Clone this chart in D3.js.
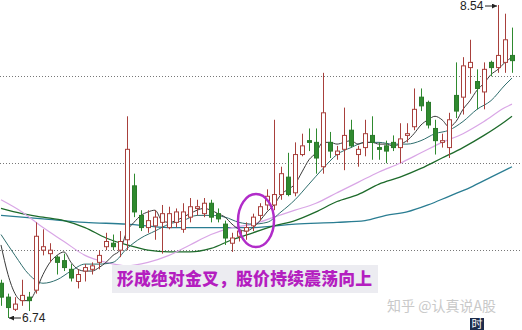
<!DOCTYPE html>
<html><head><meta charset="utf-8">
<script src="https://cdn.jsdelivr.net/npm/d3@7/dist/d3.min.js"></script>
<style>html,body{margin:0;padding:0;background:#fff;}svg{display:block;}</style>
</head><body>
<svg id="c" width="522" height="330"></svg>
<script>
// ---- data (prices) ----
const opens  = [6.94,6.86,6.79,6.84,6.86,6.90,7.13,7.11,7.09,7.07,7.02,6.95,7.01,7.02,7.06,7.15,7.17,7.13,7.19,7.50,7.33,7.26,7.27,7.29,7.26,7.29,7.25,7.32,7.37,7.34,7.40,7.34,7.28,7.17,7.21,7.24,7.27,7.33,7.39,7.39,7.45,7.55,7.46,7.68,7.76,7.75,7.61,7.75,7.68,7.71,7.82,7.68,7.72,7.79,7.72,7.73,7.75,7.72,7.79,7.84,8.01,7.98,7.83,7.75,7.72,8.02,8.01,8.18,8.10,8.04,8.21,8.18,8.21,8.25];
const highs  = [6.96,6.88,6.86,6.96,6.89,7.29,7.25,7.17,7.10,7.11,7.05,7.02,7.05,7.06,7.13,7.23,7.22,7.24,7.90,7.57,7.36,7.36,7.36,7.39,7.38,7.37,7.40,7.43,7.42,7.43,7.42,7.37,7.30,7.23,7.26,7.29,7.34,7.40,7.48,7.88,7.61,7.69,7.75,7.80,7.83,7.83,8.15,7.81,7.73,7.95,7.88,7.73,7.88,7.90,7.75,7.76,7.79,7.86,7.86,8.06,8.06,7.99,7.88,7.80,7.92,8.21,8.24,8.34,8.17,8.21,8.22,8.54,8.49,8.41];
const lows   = [6.81,6.74,6.78,6.81,6.78,6.88,7.10,7.06,6.99,7.01,6.95,6.91,6.95,6.99,7.02,7.13,7.13,7.09,7.13,7.32,7.24,7.23,7.19,7.11,7.25,7.26,7.23,7.29,7.33,7.32,7.29,7.29,7.16,7.12,7.18,7.19,7.24,7.30,7.36,7.36,7.42,7.44,7.44,7.67,7.70,7.57,7.57,7.66,7.65,7.59,7.72,7.61,7.67,7.65,7.65,7.63,7.70,7.63,7.75,7.82,7.93,7.83,7.68,7.72,7.66,7.89,7.91,8.03,7.94,7.94,8.13,8.15,8.15,8.15];
const closes = [6.86,6.80,6.82,6.87,6.84,7.21,7.15,7.13,7.06,7.03,6.97,6.99,7.03,7.04,7.10,7.18,7.15,7.18,7.71,7.35,7.26,7.30,7.32,7.34,7.34,7.35,7.35,7.38,7.38,7.40,7.32,7.31,7.20,7.20,7.24,7.26,7.32,7.38,7.44,7.45,7.57,7.45,7.68,7.73,7.75,7.66,7.92,7.70,7.70,7.79,7.73,7.71,7.80,7.75,7.71,7.70,7.72,7.77,7.80,7.94,7.96,7.85,7.76,7.76,7.88,7.93,8.19,8.21,8.06,8.17,8.18,8.25,8.34,8.22];

// moving averages: [candle index, value]
const ma5 = [[0,7.16],[1,6.99],[2,6.88],[3,6.84],[4,6.84],[5,6.90],[6,6.99],[7,7.06],[8,7.10],[9,7.12],[10,7.06],[11,7.02],[12,7.01],[13,7.01],[14,7.03],[15,7.06],[16,7.10],[17,7.13],[18,7.24],[19,7.29],[20,7.33],[21,7.35],[22,7.36],[23,7.30],[24,7.29],[25,7.30],[26,7.32],[27,7.34],[28,7.36],[29,7.37],[30,7.36],[31,7.34],[32,7.32],[33,7.28],[34,7.25],[35,7.24],[36,7.26],[37,7.30],[38,7.35],[39,7.39],[40,7.45],[41,7.48],[42,7.51],[43,7.58],[44,7.65],[45,7.69],[46,7.75],[47,7.75],[48,7.74],[49,7.75],[50,7.76],[51,7.74],[52,7.75],[53,7.75],[54,7.74],[55,7.74],[56,7.73],[57,7.74],[58,7.76],[59,7.80],[60,7.85],[61,7.88],[62,7.90],[63,7.88],[64,7.84],[65,7.87],[66,7.94],[67,7.99],[68,8.05],[69,8.09],[70,8.14],[71,8.17],[72,8.21],[73,8.24]];
const ma10 = [[0,7.22],[2,7.10],[4,6.99],[6,6.94],[8,6.96],[10,7.01],[12,7.05],[14,7.05],[16,7.06],[18,7.14],[20,7.20],[22,7.24],[24,7.28],[26,7.30],[28,7.33],[30,7.33],[32,7.32],[34,7.29],[36,7.28],[38,7.29],[40,7.35],[42,7.42],[44,7.51],[46,7.60],[48,7.68],[50,7.72],[52,7.75],[54,7.75],[56,7.74],[58,7.74],[60,7.76],[62,7.80],[64,7.82],[66,7.87],[68,7.94],[70,7.99],[72,8.08],[73,8.12]];
const ma20 = [[0,7.42],[3,7.35],[6,7.26],[9,7.18],[12,7.10],[15,7.06],[18,7.04],[21,7.06],[24,7.10],[27,7.16],[30,7.22],[33,7.26],[36,7.28],[39,7.32],[42,7.36],[45,7.40],[48,7.46],[51,7.52],[54,7.58],[57,7.63],[60,7.69],[63,7.75],[66,7.80],[69,7.87],[72,7.95],[73,7.97]];
const ma30 = [[0,7.37],[3,7.34],[6,7.32],[9,7.30],[12,7.26],[15,7.20],[18,7.16],[21,7.13],[24,7.12],[27,7.12],[30,7.14],[33,7.19],[36,7.23],[39,7.27],[42,7.30],[45,7.35],[48,7.41],[51,7.45],[54,7.51],[57,7.55],[60,7.60],[63,7.66],[66,7.72],[69,7.79],[72,7.87],[73,7.90]];
const ma60 = [[0,7.33],[6,7.31],[12,7.29],[18,7.28],[24,7.26],[30,7.26],[36,7.26],[42,7.28],[48,7.29],[52,7.30],[55,7.33],[58,7.35],[61,7.39],[64,7.44],[67,7.49],[70,7.55],[73,7.61]];

const gridValues = [7.13, 7.63, 8.13];
const highLabel = "8.54", lowLabel = "6.74";
const caption = "形成绝对金叉，股价持续震荡向上";
const watermark = "知乎 @认真说A股";

// ---- drawing ----
const svg = d3.select("#c");
const n = opens.length;
const x = d3.scaleBand().domain(d3.range(n)).range([-2.5, 515.5]).paddingInner(0);
const cx = i => x(i) + x.bandwidth() / 2;
const y = d3.scaleLinear().domain([6.74, 8.54]).range([318, 5]);

svg.append("rect").attr("width",522).attr("height",330).attr("fill","#fff");

// grid
svg.selectAll("line.grid").data(gridValues).join("line")
  .attr("x1",0).attr("x2",522)
  .attr("y1",d=>Math.round(y(d))+0.5).attr("y2",d=>Math.round(y(d))+0.5)
  .attr("stroke","#777").attr("stroke-width",1).attr("stroke-dasharray","1,2");

// MA lines
const line = d3.line().x(d=>cx(d[0])).y(d=>y(d[1])).curve(d3.curveMonotoneX);
const maDefs = [
  {d: ma60, c: "#2a7d92", w: 1.3},
  {d: ma30, c: "#1d6a2a", w: 1.3},
  {d: ma20, c: "#d9a6e6", w: 1.2},
  {d: ma10, c: "#2f6e6e", w: 1},
  {d: ma5,  c: "#3a3a3a", w: 1}
];
maDefs.forEach(m => svg.append("path").attr("d", line(m.d)).attr("fill","none")
  .attr("stroke", m.c).attr("stroke-width", m.w));

// candles
const data = d3.range(n).map(i => ({i, o: opens[i], h: highs[i], l: lows[i], c: closes[i]}));
const bw = 5;
const g = svg.append("g");
g.selectAll("line.wick").data(data).join("line")
  .attr("x1", d=>Math.round(cx(d.i))+0.5).attr("x2", d=>Math.round(cx(d.i))+0.5)
  .attr("y1", d=>y(d.h)).attr("y2", d=>y(d.l))
  .attr("stroke", d=> d.c >= d.o ? "#a8403c" : "#2f8a2f").attr("stroke-width",1);
g.selectAll("rect.body").data(data).join("rect")
  .attr("x", d=>Math.round(cx(d.i)) - 2 + 0.5)
  .attr("width", bw-1)
  .attr("y", d=>y(Math.max(d.o,d.c)))
  .attr("height", d=>Math.max(1, Math.abs(y(d.o)-y(d.c))))
  .attr("fill", d=> d.c >= d.o ? "#fff" : "#2f8a2f")
  .attr("stroke", d=> d.c >= d.o ? "#a8403c" : "#2a7a2a").attr("stroke-width",1);

// high / low labels
const hi = d3.maxIndex(highs), lo = d3.minIndex(lows);
const defs = svg.append("defs");
defs.append("marker").attr("id","ah").attr("viewBox","0 0 6 6").attr("refX",6).attr("refY",3)
  .attr("markerWidth",5).attr("markerHeight",5).attr("orient","auto-start-reverse")
  .append("path").attr("d","M0,0L6,3L0,6Z").attr("fill","#222");
svg.append("text").attr("x", cx(hi)-38).attr("y", y(highs[hi])+5)
  .attr("font-family","Liberation Sans, Arial, sans-serif").attr("font-size",12).attr("fill","#222").text(highLabel);
svg.append("line").attr("x1", cx(hi)-13).attr("x2", cx(hi)-1).attr("y1", y(highs[hi])+1).attr("y2", y(highs[hi])+1)
  .attr("stroke","#222").attr("marker-end","url(#ah)");
svg.append("line").attr("x1", cx(lo)+13).attr("x2", cx(lo)+1).attr("y1", y(lows[lo])).attr("y2", y(lows[lo]))
  .attr("stroke","#222").attr("marker-end","url(#ah)");
svg.append("text").attr("x", cx(lo)+14).attr("y", y(lows[lo])+4)
  .attr("font-family","Liberation Sans, Arial, sans-serif").attr("font-size",12).attr("fill","#222").text(lowLabel);

// golden-cross ellipse
svg.append("ellipse").attr("cx", cx(36)+3).attr("cy", y(7.30)).attr("rx",18).attr("ry",26.5)
  .attr("fill","none").attr("stroke","#b12cc9").attr("stroke-width",2.5);

// caption
svg.append("rect").attr("x",112).attr("y",265).attr("width",266).attr("height",28).attr("fill","#ececf1");
svg.append("text").attr("x",117).attr("y",285).attr("font-family","Noto Sans CJK SC").attr("font-weight",900)
  .attr("font-size",16.8).attr("fill","#b41ec0").attr("textLength",255).text(caption);

// watermark
svg.append("text").attr("x",387).attr("y",311).attr("font-family","Noto Sans CJK SC").attr("font-size",14)
  .attr("fill","#c9c9c9").text(watermark);

// small time box
svg.append("rect").attr("x",470).attr("y",318).attr("width",14).attr("height",12).attr("fill","#1c2c4c");
svg.append("text").attr("x",471.5).attr("y",328).attr("font-family","Noto Sans CJK SC").attr("font-size",11)
  .attr("fill","#fff").text("时");
</script>
</body></html>
